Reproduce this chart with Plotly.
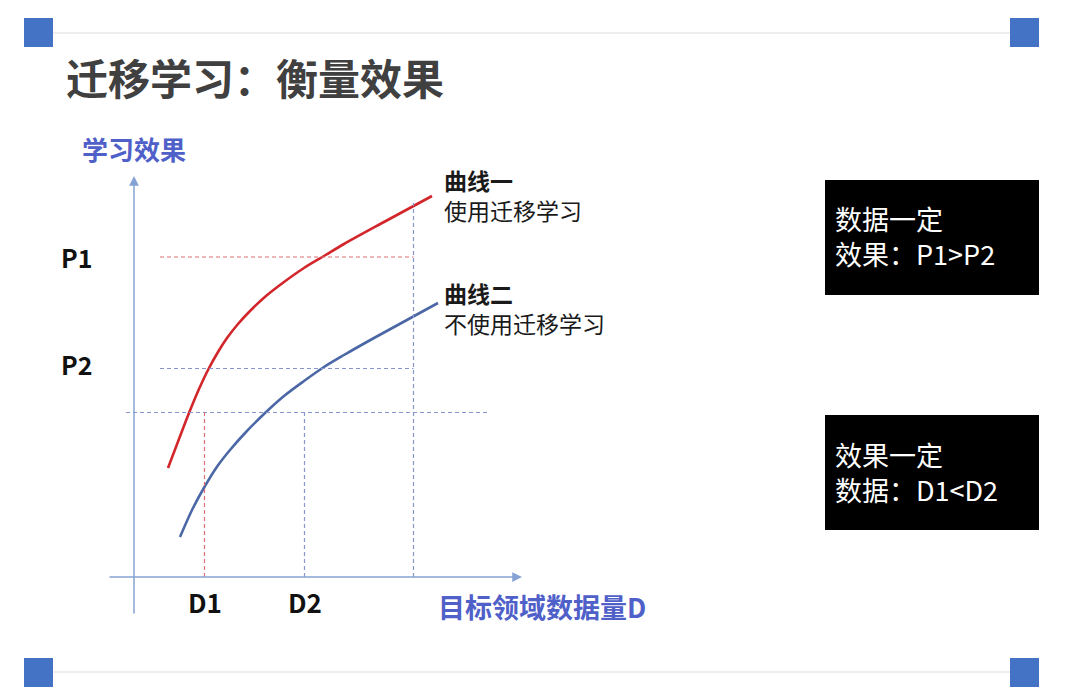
import plotly.graph_objects as go

W, H = 1066, 693
OFF = 8  # page body margin compensation (px)

# ---- chart data (target-domain data amount D vs learning effect) ----
D_transfer = [3.4, 4.5, 5.5, 6.5, 7.4, 8.4, 9.3, 10.4, 11.6, 13.2, 15.0, 17.0, 19.0, 21.0, 25.0, 29.8]
E_transfer = [10.9, 13.8, 16.4, 18.8, 20.7, 22.5, 23.9, 25.3, 26.6, 28.1, 29.5, 30.9, 32.1, 33.3, 35.5, 38.1]
D_plain = [4.6, 5.85, 7.1, 8.35, 9.6, 11.2, 13.0, 15.0, 17.0, 19.0, 21.0, 24.0, 30.4]
E_plain = [4.0, 6.8, 9.1, 11.1, 12.7, 14.5, 16.3, 18.1, 19.6, 21.0, 22.2, 23.9, 27.4]

P1, P2 = 32.0, 20.85          # effect levels at fixed data
E_fixed = 16.45               # fixed effect level
D1, D2 = 7.05, 17.05          # data needed at fixed effect
D_fixed = 27.95               # fixed data amount

series_names = ["曲线一", "曲线二"]
series_desc = ["使用迁移学习", "不使用迁移学习"]
tick_P = ["P1", "P2"]
tick_D = ["D1", "D2"]
title_text = "迁移学习：衡量效果"
y_title = "学习效果"
x_title = "目标领域数据量D"
box1_lines = ["数据一定", "效果：P1>P2"]
box2_lines = ["效果一定", "数据：D1<D2"]

FONT = "Noto Sans CJK SC, Noto Sans, sans-serif"
RED = "#d2262b"
BLUE = "#4c67a6"
RED_DOT = "#dc6f74"
BLUE_DOT = "#8896cf"
AXIS = "#86a2d4"
LABEL_BLUE = "#4f60c9"
SQ = "#4472c4"


def pxx(x):
    return (x - OFF) / W


def pxy(y):
    return 1 - (y - OFF) / H


fig = go.Figure()

# curves
fig.add_trace(go.Scatter(x=D_transfer, y=E_transfer, mode="lines",
                         line=dict(color=RED, width=2.6, shape="spline", smoothing=0.9),
                         hoverinfo="skip"))
fig.add_trace(go.Scatter(x=D_plain, y=E_plain, mode="lines",
                         line=dict(color=BLUE, width=2.6, shape="spline", smoothing=0.9),
                         hoverinfo="skip"))

# dotted guide lines
dash = "4px,3px"
guides = [
    ([2.6, D_fixed], [P1, P1], RED_DOT),
    ([2.6, D_fixed], [P2, P2], BLUE_DOT),
    ([-0.8, 35.3], [E_fixed, E_fixed], BLUE_DOT),
    ([D1, D1], [0, E_fixed], RED_DOT),
    ([D2, D2], [0, E_fixed], BLUE_DOT),
    ([D_fixed, D_fixed], [0, 37.4], BLUE_DOT),
]
for xs, ys, c in guides:
    fig.add_trace(go.Scatter(x=xs, y=ys, mode="lines",
                             line=dict(color=c, width=1.2, dash=dash),
                             hoverinfo="skip"))

ann = []
# axes with arrows
ann.append(dict(x=0, y=40.1, ax=0, ay=-3.8, xref="x", yref="y", axref="x", ayref="y",
                text="", showarrow=True, arrowhead=2, arrowsize=1.3, arrowwidth=1.5,
                arrowcolor=AXIS, standoff=0))
ann.append(dict(x=38.8, y=0, ax=-2.6, ay=0, xref="x", yref="y", axref="x", ayref="y",
                text="", showarrow=True, arrowhead=2, arrowsize=1.3, arrowwidth=1.5,
                arrowcolor=AXIS, standoff=0))

# axis titles
ann.append(dict(x=0, y=42.9, xref="x", yref="y", text="<b>" + y_title + "</b>",
                showarrow=False, xanchor="center", yanchor="middle",
                font=dict(family=FONT, size=26, color=LABEL_BLUE)))
ann.append(dict(x=30.2, y=-2.9, xref="x", yref="y", text="<b>" + x_title + "</b>",
                showarrow=False, xanchor="left", yanchor="middle",
                font=dict(family=FONT, size=27, color=LABEL_BLUE)))

# tick labels
for lab, val, ys in zip(tick_P, [P1, P2], [0, 5]):
    ann.append(dict(x=pxx(76), y=val, xref="paper", yref="y", text="<b>" + lab + "</b>",
                    showarrow=False, xanchor="center", yanchor="middle", yshift=ys,
                    font=dict(family=FONT, size=25, color="#111111")))
for lab, val in zip(tick_D, [D1, D2]):
    ann.append(dict(x=val, y=-2.4, xref="x", yref="y", text="<b>" + lab + "</b>",
                    showarrow=False, xanchor="center", yanchor="middle",
                    font=dict(family=FONT, size=26, color="#111111")))

# curve labels
for name, desc, yc in zip(series_names, series_desc, [38.2, 26.9]):
    ann.append(dict(x=30.8, y=yc, xref="x", yref="y",
                    text="<b>" + name + "</b><br>" + desc,
                    showarrow=False, xanchor="left", yanchor="middle", align="left",
                    font=dict(family=FONT, size=23, color="#1a1a1a")))

# title
ann.append(dict(x=pxx(64), y=pxy(76), xref="paper", yref="paper", text="<b>" + title_text + "</b>",
                showarrow=False, xanchor="left", yanchor="middle",
                font=dict(family=FONT, size=42, color="#404040")))

# box texts
for lines, yc in [(box1_lines, 236), (box2_lines, 472)]:
    ann.append(dict(x=pxx(833), y=pxy(yc), xref="paper", yref="paper",
                    text="<br>".join(lines), align="left",
                    showarrow=False, xanchor="left", yanchor="middle",
                    font=dict(family=FONT, size=27, color="#ffffff")))

shapes = []
# boxes
for y0, y1 in [(180, 295), (415, 530)]:
    shapes.append(dict(type="rect", xref="paper", yref="paper",
                       x0=pxx(825), x1=pxx(1039), y0=pxy(y1), y1=pxy(y0),
                       fillcolor="#000000", line=dict(width=0), layer="below"))
# frame lines
for yy in [33, 672]:
    shapes.append(dict(type="line", xref="paper", yref="paper",
                       x0=pxx(53), x1=pxx(1010), y0=pxy(yy), y1=pxy(yy),
                       line=dict(color="#e8e8e8", width=1.5), layer="below"))
# corner squares
for x0, y0 in [(24, 18), (1010, 18), (24, 658), (1010, 658)]:
    shapes.append(dict(type="rect", xref="paper", yref="paper",
                       x0=pxx(x0), x1=pxx(x0 + 29), y0=pxy(y0 + 29), y1=pxy(y0),
                       fillcolor=SQ, line=dict(width=0)))

x_left = -(134 - OFF) / 10
y_top = (577 - OFF) / 10
fig.update_layout(
    width=W, height=H,
    margin=dict(l=0, r=0, t=0, b=0),
    paper_bgcolor="#ffffff", plot_bgcolor="#ffffff",
    showlegend=False,
    xaxis=dict(range=[x_left, x_left + W / 10], visible=False, fixedrange=True),
    yaxis=dict(range=[y_top - H / 10, y_top], visible=False, fixedrange=True),
    annotations=ann, shapes=shapes,
)

fig.write_html("out.html")
